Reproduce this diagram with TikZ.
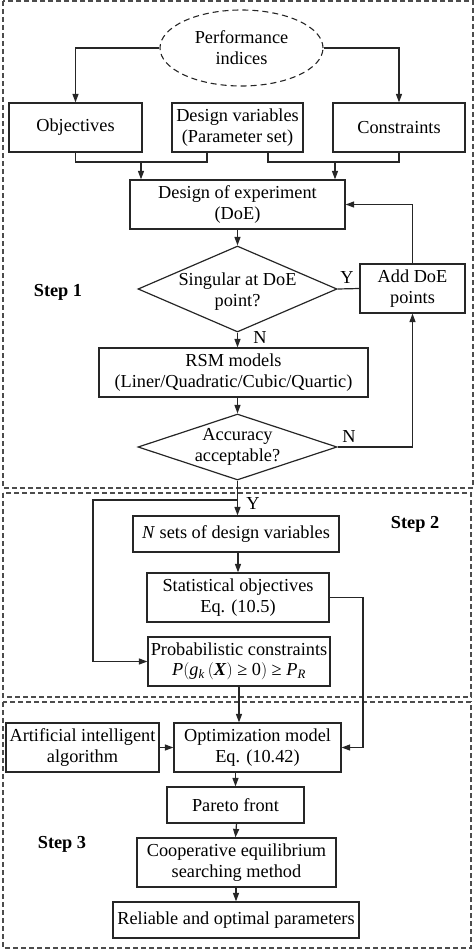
\documentclass[tikz,border=0pt]{standalone}
\usepackage{fontspec}
\setmainfont{Liberation Serif}
\usetikzlibrary{shapes.geometric,arrows.meta}
\begin{document}
\begin{tikzpicture}[x=1pt,y=-1pt,
  every node/.style={font=\fontsize{18.3}{21}\selectfont},
  box/.style={draw=black!85, line width=1.2pt, rectangle, inner sep=0pt, align=center},
  dia/.style={draw=black!85, line width=1.2pt, diamond, inner sep=0pt, aspect=2.3},
  line/.style={draw=black!85, line width=1.2pt},
  arr/.style={line, -{Triangle[length=8.5pt,width=6pt]}},
  frame/.style={draw=black!70, line width=1.3pt, dash pattern=on 5pt off 3pt},
  steplab/.style={font=\fontsize{18.3}{21}\selectfont\bfseries},
  yn/.style={inner sep=0pt}]
\useasboundingbox (0,0) rectangle (474,950);
% frames
\draw[frame] (3,1) rectangle (473,488);
\draw[frame] (3,493) rectangle (471,697);
\draw[frame] (3,702) rectangle (471,948);
% nodes
\node[draw=black!85, line width=1.1pt, dash pattern=on 6pt off 4pt, ellipse, minimum width=163pt, minimum height=76pt, inner sep=0pt, align=center] (perf) at (241.5,48) {Performance\\indices};
\node[box, minimum width=133pt, minimum height=49pt] (obj) at (75.5,127.5) {Objectives};
\node[box, minimum width=131pt, minimum height=49pt] (dv) at (237.5,127.5) {Design variables\\(Parameter set)};
\node[box, minimum width=132pt, minimum height=49pt] (con) at (399,127.5) {Constraints};
\node[box, minimum width=215pt, minimum height=49pt] (doe) at (237.5,204.5) {Design of experiment\\(DoE)};
\node[dia, minimum width=199pt, minimum height=86pt, label={[align=center, yshift=-3pt]center:Singular at DoE\\point?}] (d1) at (237.5,289) {};
\node[box, minimum width=105pt, minimum height=49pt] (add) at (412.5,288.5) {Add DoE\\points};
\node[box, minimum width=269pt, minimum height=49pt] (rsm) at (233.5,372.5) {RSM models\\(Liner/Quadratic/Cubic/Quartic)};
\node[dia, minimum width=199pt, minimum height=66pt, label={[align=center]center:Accuracy\\acceptable?}] (d2) at (237.5,447) {};
\node[box, minimum width=206pt, minimum height=36pt] (nsets) at (236,534) {\textit{N} sets of design variables};
\node[box, minimum width=182pt, minimum height=49pt] (stat) at (238,597.5) {Statistical objectives\\Eq. (10.5)};
\node[box, minimum width=182pt, minimum height=49pt] (prob) at (239,661.5) {Probabilistic constraints\\[-1pt]\textit{P}$\Bigl($\textit{g}\textsubscript{\textit{k}}$\,\bigl($\textbf{\textit{X}}$\bigr)$ ≥ 0$\Bigr)$ ≥ \textit{P}\textsubscript{\textit{R}}};
\node[box, minimum width=153pt, minimum height=49pt] (ai) at (82.5,747.5) {Artificial intelligent\\algorithm};
\node[box, minimum width=167pt, minimum height=49pt] (opt) at (257.5,747.5) {Optimization model\\Eq. (10.42)};
\node[box, minimum width=137pt, minimum height=36pt] (pareto) at (235.5,805) {Pareto front};
\node[box, minimum width=199pt, minimum height=49pt] (coop) at (236.5,862.5) {Cooperative equilibrium\\searching method};
\node[box, minimum width=246pt, minimum height=36pt] (rel) at (236,920) {Reliable and optimal parameters};
% labels
\node[steplab] (s1) at (58,292) {Step 1};
\node[steplab] (s2) at (415,524) {Step 2};
\node[steplab] (s3) at (62,844) {Step 3};
\node[yn] (y1) at (347,278) {Y};
\node[yn] (n1) at (260,338) {N};
\node[yn] (n2) at (349,437) {N};
\node[yn] (y2) at (253,504) {Y};
% coordinates
\coordinate (j1) at (141,162);
\coordinate (j2) at (335,162);
\coordinate (dvl) at (207,152);
\coordinate (dvr) at (268,152);
\coordinate (br) at (237.5,500);
\coordinate (bl) at (93,500);
\coordinate (sr) at (363,747.5);
% connectors
\draw[arr] (perf.west) -| (obj.north);
\draw[arr] (perf.east) -| (con.north);
\draw[line] (obj.south) |- (j1) -| (dvl);
\draw[line] (con.south) |- (j2) -| (dvr);
\draw[arr] (j1) -- (j1 |- doe.north);
\draw[arr] (j2) -- (j2 |- doe.north);
\draw[arr] (doe.south) -- (d1.north);
\draw[line] (d1.east) -- (add.west);
\draw[arr] (add.north) |- (doe.east);
\draw[arr] (d1.south) -- (d1.south |- rsm.north);
\draw[arr] (rsm.south -| d2.north) -- (d2.north);
\draw[arr] (d2.east) -| (add.south);
\draw[arr] (d2.south) -- (d2.south |- nsets.north);
\draw[arr] (br) -- (bl) |- (prob.west);
\draw[arr] (nsets.south -| stat.north) -- (stat.north);
\draw[arr] (stat.east) -| (sr) -- (opt.east);
\draw[arr] (prob.south) -- (prob.south |- opt.north);
\draw[arr] (ai.east) -- (opt.west);
\draw[arr] (opt.south -| pareto.north) -- (pareto.north);
\draw[arr] (pareto.south -| coop.north) -- (pareto.south |- coop.north);
\draw[arr] (coop.south -| rel.north) -- (rel.north);
\end{tikzpicture}
\end{document}
